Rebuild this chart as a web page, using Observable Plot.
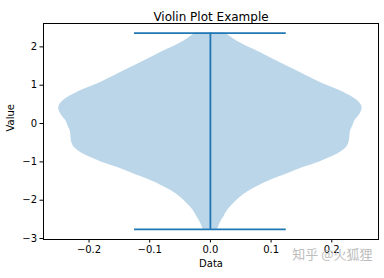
<!DOCTYPE html>
<html><head><meta charset="utf-8">
<script src="https://cdn.jsdelivr.net/npm/d3@7"></script>
<script src="https://cdn.jsdelivr.net/npm/@observablehq/plot@0.6"></script>
<style>body{margin:0;background:#fff} svg{display:block}</style>
</head><body><div id="chart"></div>
<script>
const title = "Violin Plot Example";
const xLabel = "Data";
const yLabel = "Value";
const watermark = "知乎 @火狐狸";
const xTicks = [-0.2, -0.1, 0, 0.1, 0.2];
const yTicks = [-3, -2, -1, 0, 1, 2];
const position = 0;
const dataMin = -2.76;
const dataMax = 2.36;
const capHalfWidth = 0.125;
// violin outline: value levels and half-widths
const levels =     [-2.76, -2.6, -2.44, -2.25, -2.09, -1.9, -1.74, -1.48, -1.3, -1.14, -1.0, -0.88, -0.76, -0.66, -0.55, -0.45, -0.3, -0.19, -0.05, 0.07, 0.21, 0.33, 0.42, 0.52, 0.64, 0.81, 1.07, 1.3, 1.5, 1.72, 1.935, 2.15, 2.36];
const halfWidths = [0.012, 0.016, 0.022, 0.029, 0.038, 0.051, 0.066, 0.099, 0.128, 0.154, 0.180, 0.198, 0.213, 0.222, 0.227, 0.229, 0.230, 0.231, 0.235, 0.238, 0.245, 0.249, 0.250, 0.247, 0.239, 0.220, 0.181, 0.152, 0.126, 0.098, 0.071, 0.044, 0.024];

const profile = levels.map((v, i) => ({v, hw: halfWidths[i]}));
const fmtX = d => d.toFixed(1).replace("-", "\u2212");
const fmtY = d => String(d).replace("-", "\u2212");
const C0 = "#1f77b4";

const chart = Plot.plot({
  width: 384, height: 278,
  marginLeft: 43, marginRight: 6, marginTop: 23, marginBottom: 39,
  style: {fontFamily: "DejaVu Sans", fontSize: "10px", background: "#fff", color: "#000"},
  x: {domain: [-0.275, 0.277]},
  y: {domain: [-3.025, 2.61]},
  marks: [
    Plot.areaX(profile, {y: "v", x1: d => position - d.hw, x2: d => position + d.hw, fill: C0, fillOpacity: 0.3, curve: "catmull-rom"}),
    Plot.ruleX([position], {y1: dataMin, y2: dataMax, stroke: C0, strokeWidth: 1.8}),
    Plot.ruleY([dataMin, dataMax], {x1: position - capHalfWidth, x2: position + capHalfWidth, stroke: C0, strokeWidth: 1.8}),
    Plot.frame({stroke: "#000", strokeWidth: 1}),
    Plot.axisX({ticks: xTicks, tickFormat: fmtX, tickSize: 3.5, tickPadding: 3, label: null, fontSize: 10}),
    Plot.axisY({ticks: yTicks, tickFormat: fmtY, tickSize: 3.5, tickPadding: 3, label: null, fontSize: 10}),
    Plot.text([title], {frameAnchor: "top", dy: -11, fontSize: 12, fill: "#000"}),
    Plot.text([xLabel], {frameAnchor: "bottom", dy: 27, fontSize: 10, fill: "#000"}),
    Plot.text([yLabel], {frameAnchor: "left", dx: -33, rotate: -90, fontSize: 10, fill: "#000"}),
    Plot.text([watermark], {frameAnchor: "bottom-right", dx: -6, dy: 19, textAnchor: "end", fontSize: 13, fill: "#bdbdbd", fontFamily: "Noto Sans CJK SC"})
  ]
});
document.getElementById("chart").appendChild(chart);
</script>
</body></html>
